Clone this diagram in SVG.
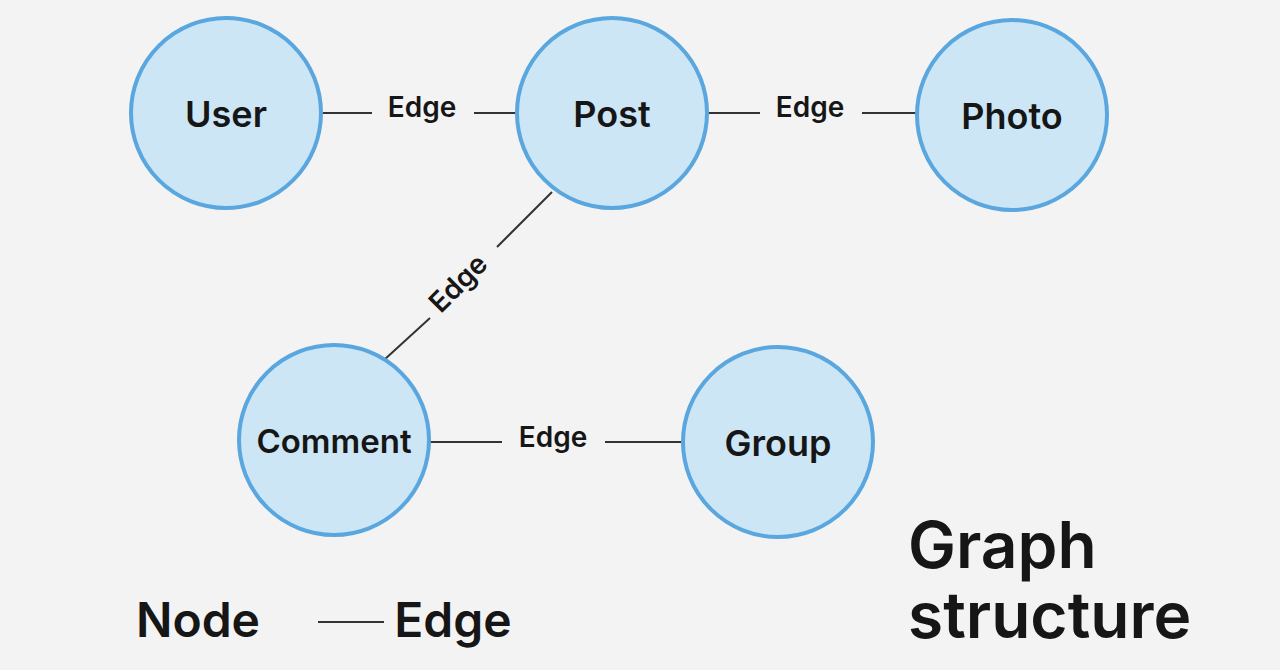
<svg xmlns="http://www.w3.org/2000/svg" width="1280" height="670" viewBox="0 0 1280 670">
<style>
.n{fill:#cce6f6;stroke:#5aa6de;stroke-width:4}
.t{font-family:Inter,"Liberation Sans",sans-serif;font-weight:600;fill:#161616;text-anchor:middle}
.nl{font-size:36px}
.el{font-size:28px}
.c{stroke:#333;stroke-width:2;fill:none}
</style>
<rect width="1280" height="670" fill="#f3f3f3"/>
<g id="connectors">
<path class="c" d="M322 113H372M474 113H516M708 113H760M862 113H916M552 192L497 247M430 318L384 360M430 442H502M605 442H683"/>
<text class="t el" x="422" y="117">Edge</text>
<text class="t el" x="810" y="117">Edge</text>
<text class="t el" x="553" y="447">Edge</text>
<text class="t el" transform="translate(458,283) rotate(-45)" y="10">Edge</text>
</g>
<g id="user"><circle class="n" cx="226" cy="113" r="95"/><text class="t nl" x="226" y="127">User</text></g>
<g id="post"><circle class="n" cx="612" cy="113" r="95"/><text class="t nl" x="612" y="127">Post</text></g>
<g id="photo"><circle class="n" cx="1012" cy="115" r="95"/><text class="t nl" x="1012" y="129">Photo</text></g>
<g id="comment"><circle class="n" cx="334" cy="440" r="95"/><text class="t" style="font-size:33px" x="334" y="453">Comment</text></g>
<g id="group"><circle class="n" cx="778" cy="442" r="95"/><text class="t nl" x="778" y="456">Group</text></g>
<g id="legend">
<text class="t" style="font-size:48px" x="198" y="637">Node</text>
<path class="c" d="M318 622H384"/>
<text class="t" style="font-size:48px" x="453" y="637">Edge</text>
</g>
<g id="title">
<text class="t" style="font-size:64px;text-anchor:start" x="908" y="568">Graph</text>
<text class="t" style="font-size:64px;text-anchor:start" x="908" y="638">structure</text>
</g>
</svg>
